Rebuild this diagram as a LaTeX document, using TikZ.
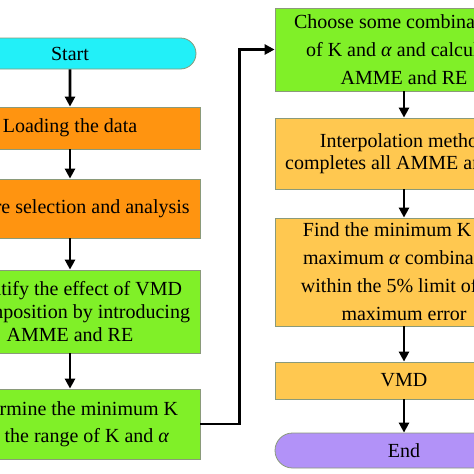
\documentclass[tikz,border=0pt]{standalone}
\usepackage{fontspec}
\setmainfont{Liberation Serif}
\usetikzlibrary{shapes.misc,arrows.meta}
\definecolor{cstart}{HTML}{22F0F8}
\definecolor{corange}{HTML}{FF9410}
\definecolor{cgreen}{HTML}{80F028}
\definecolor{clorange}{HTML}{FFC850}
\definecolor{cpurple}{HTML}{B292F8}
\definecolor{cborder}{HTML}{8A9A7A}
\tikzset{
  boxbase/.style={draw=cborder, line width=0.8pt, inner sep=0pt, align=center, font=\fontsize{20}{24}\selectfont},
  leftbox/.style={boxbase, rectangle, minimum width=260pt},
  rightbox/.style={boxbase, rectangle, minimum width=258pt},
  term/.style={boxbase, rounded rectangle},
  flow/.style={line width=2.6pt, -{Triangle[width=10pt,length=10pt]}},
}
\begin{document}
\begin{tikzpicture}[x=1pt,y=-1pt]
\useasboundingbox (0,0) rectangle (474,474);
\clip (0,0) rectangle (474,474);
% left column
\node[term, fill=cstart, minimum width=252pt, minimum height=31pt] (start) at (70,53.5) {Start};
\node[leftbox, fill=corange, minimum height=42pt] (load) at (70,128) {Loading the data};
\node[leftbox, fill=corange, minimum height=59pt] (sel) at (70,208.5) {Feature selection and analysis};
\node[leftbox, fill=cgreen, minimum height=83pt, font=\fontsize{20}{23}\selectfont] (quant) at (70,311.5) {Quantify the effect of VMD\\decomposition by introducing\\AMME and RE};
\node[leftbox, fill=cgreen, minimum height=70pt, font=\fontsize{20}{27}\selectfont] (det) at (70,424) {Determine the minimum K\\and the range of K and \textit{α}};
% right column
\node[rightbox, fill=cgreen, minimum height=83pt, font=\fontsize{20}{28}\selectfont] (choose) at (404,49.5) {Choose some combinations\\of K and \textit{α} and calculate\\AMME and RE};
\node[rightbox, fill=clorange, minimum height=71pt, font=\fontsize{20}{22}\selectfont] (interp) at (404,153.5) {Interpolation method\\completes all AMME and RE};
\node[rightbox, fill=clorange, minimum height=108pt, font=\fontsize{20}{28}\selectfont] (find) at (404,272) {Find the minimum K and\\maximum \textit{α} combination\\within the 5\% limit of the\\maximum error};
\node[rightbox, fill=clorange, minimum height=37pt] (vmd) at (404,380.5) {VMD};
\node[term, fill=cpurple, minimum width=258pt, minimum height=35pt] (end) at (404,450.5) {End};
% connectors
\draw[flow] (start) -- (load);
\draw[flow] (load) -- (sel);
\draw[flow] (sel) -- (quant);
\draw[flow] (quant) -- (det);
\draw[flow] (det.east) -- ++(39,0) |- (choose.west);
\draw[flow] (choose) -- (interp);
\draw[flow] (interp) -- (find);
\draw[flow] (find) -- (vmd);
\draw[flow] (vmd) -- (end);
\end{tikzpicture}
\end{document}
